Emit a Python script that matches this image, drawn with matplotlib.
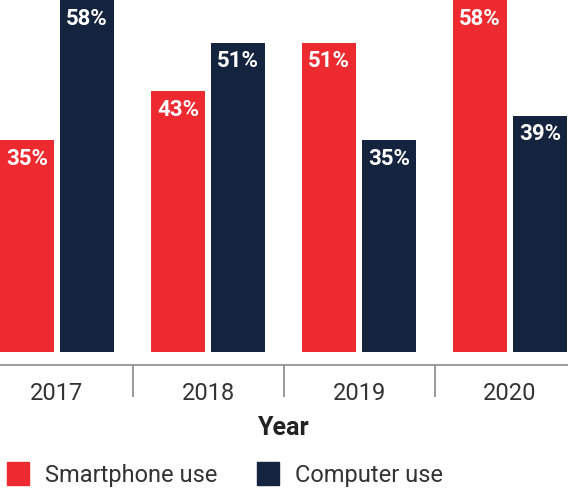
import matplotlib
matplotlib.use("Agg")
import matplotlib.pyplot as plt
from matplotlib.patches import Rectangle
import numpy as np

years = ["2017", "2018", "2019", "2020"]
smartphone = [35, 43, 51, 58]
computer = [58, 51, 35, 39]
series_names = ["Smartphone use", "Computer use"]
colors = ["#EC2A30", "#14233E"]

plt.rcParams['font.family'] = ['Roboto', 'DejaVu Sans']

W, H = 568, 498
fig = plt.figure(figsize=(W / 100, H / 100), dpi=100)
# axes spans full width, from y=0px (top) to y=365px
ax = fig.add_axes([0, 1 - 365 / H, 1, 365 / H])

x = np.arange(len(years))
bw = 54 / 151
off = 30 / 151
b1 = ax.bar(x - off, smartphone, bw, color=colors[0])
b2 = ax.bar(x + off, computer, bw, color=colors[1])

for bars, vals in ((b1, smartphone), (b2, computer)):
    for r, v in zip(bars, vals):
        ax.annotate(f"{v}%", (r.get_x() + r.get_width() / 2, v),
                    xytext=(0, -13.5), textcoords="offset points",
                    ha="center", va="center", color="white",
                    fontsize=16, fontweight="bold")

ax.set_xlim(-57 / 151, (W - 57) / 151)
ppu = 352 / 58.05
ax.set_ylim(-13 / ppu, 58.05)

for s in ("top", "left", "right"):
    ax.spines[s].set_visible(False)
ax.spines["bottom"].set_color("#8a8a8a")
ax.spines["bottom"].set_linewidth(1.2)
ax.set_yticks([])
ax.set_xticks(x)
ax.set_xticklabels(years, fontsize=17, color="#333333")
ax.tick_params(axis="x", which="major", length=0, pad=12)
ax.set_xticks(x[:-1] + 0.5, minor=True)
ax.tick_params(axis="x", which="minor", length=23, width=1.2, color="#8a8a8a")

fig.text(0.5, 1 - 428 / H, "Year", ha="center", va="center",
         fontsize=18, fontweight="bold", color="#222222")

# legend
leg_x = [7, 257]
txt_x = [45, 295]
for i, name in enumerate(series_names):
    fig.patches.append(Rectangle((leg_x[i] / W, 1 - 485 / H), 22 / W, 23 / H,
                                 transform=fig.transFigure, color=colors[i]))
    fig.text(txt_x[i] / W, 1 - 475 / H, name, ha="left", va="center",
             fontsize=17, color="#333333")

fig.savefig("out.png", dpi=100)
